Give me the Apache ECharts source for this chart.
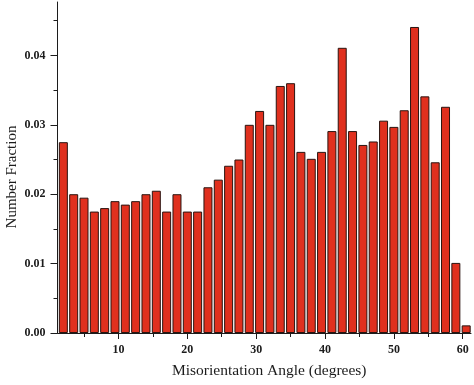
<!DOCTYPE html>
<html>
<head>
<meta charset="utf-8">
<script src="https://cdn.jsdelivr.net/npm/echarts@6/dist/echarts.min.js"></script>
<style>html,body{margin:0;padding:0;background:#fff;}#c{width:474px;height:385px;}</style>
</head>
<body>
<div id="c"></div>
<script>
// Bin centres (degrees) and number fractions
var angles = [2, 3.5, 5, 6.5, 8, 9.5, 11, 12.5, 14, 15.5, 17, 18.5, 20, 21.5, 23, 24.5, 26, 27.5, 29, 30.5,
              32, 33.5, 35, 36.5, 38, 39.5, 41, 42.5, 44, 45.5, 47, 48.5, 50, 51.5, 53, 54.5, 56, 57.5, 59, 60.5];
var fractions = [0.0275, 0.0200, 0.0195, 0.0175, 0.0180, 0.0190, 0.0185, 0.0190, 0.0200, 0.0205,
                 0.0175, 0.0200, 0.0175, 0.0175, 0.0210, 0.0221, 0.0241, 0.0250, 0.0300, 0.0320,
                 0.0300, 0.0356, 0.0360, 0.0261, 0.0251, 0.0261, 0.0291, 0.0411, 0.0291, 0.0271,
                 0.0276, 0.0306, 0.0297, 0.0321, 0.0441, 0.0341, 0.0246, 0.0326, 0.0101, 0.0011];
var xMajorTicks = [10, 20, 30, 40, 50, 60];
var xMinorTicks = [5, 15, 25, 35, 45, 55];
var yMajorTicks = [0, 0.01, 0.02, 0.03, 0.04];
var yMinorTicks = [0.005, 0.015, 0.025, 0.035, 0.045];

var serif = '"Liberation Serif", "Times New Roman", serif';
var ink = '#1c1c1c';
var X_MIN = 1.15, X_MAX = 61.2, Y_MIN = 0, Y_MAX = 0.0477;

var chart = echarts.init(document.getElementById('c'), null, {renderer: 'canvas'});
chart.setOption({
  animation: false,
  backgroundColor: '#fff',
  grid: {left: 57.5, right: 3, top: 2, bottom: 52, containLabel: false},
  xAxis: [{
    type: 'value', min: X_MIN, max: X_MAX,
    name: 'Misorientation Angle (degrees)', nameLocation: 'middle', nameGap: 30,
    nameTextStyle: {fontFamily: serif, fontSize: 15.5, color: ink, padding: [0, 0, 0, 10]},
    axisLine: {show: true, lineStyle: {color: ink, width: 1}},
    axisTick: {show: true, length: 6, customValues: xMajorTicks, lineStyle: {color: ink}},
    axisLabel: {show: true, customValues: xMajorTicks, margin: 11, fontFamily: serif, fontWeight: 'bold', fontSize: 12, color: ink},
    splitLine: {show: false}
  }, {
    type: 'value', min: X_MIN, max: X_MAX, position: 'bottom',
    axisLine: {show: false},
    axisTick: {show: true, length: 4, customValues: xMinorTicks, lineStyle: {color: ink}},
    axisLabel: {show: false},
    splitLine: {show: false}
  }],
  yAxis: [{
    type: 'value', min: Y_MIN, max: Y_MAX,
    axisLine: {show: true, lineStyle: {color: ink, width: 1}},
    axisTick: {show: true, length: 7, customValues: yMajorTicks, lineStyle: {color: ink}},
    axisLabel: {show: true, customValues: yMajorTicks, margin: 12, fontFamily: serif, fontWeight: 'bold', fontSize: 12, color: ink,
      formatter: function (v) { return v.toFixed(2); }},
    splitLine: {show: false}
  }, {
    type: 'value', min: Y_MIN, max: Y_MAX, position: 'left',
    axisLine: {show: false},
    axisTick: {show: true, length: 4, customValues: yMinorTicks, lineStyle: {color: ink}},
    axisLabel: {show: false},
    splitLine: {show: false}
  }],
  graphic: [{
    type: 'text', x: 12, y: 177, rotation: Math.PI / 2,
    style: {text: 'Number Fraction', font: '15px ' + serif, fill: ink, textAlign: 'center', textVerticalAlign: 'middle'}
  }],
  series: [{
    type: 'bar', xAxisIndex: 0, yAxisIndex: 0,
    barWidth: 9,
    data: angles.map(function (a, i) { return [a, fractions[i]]; }),
    itemStyle: {color: '#e0301e', borderColor: '#2a1410', borderWidth: 1}
  }]
});
</script>
</body>
</html>
